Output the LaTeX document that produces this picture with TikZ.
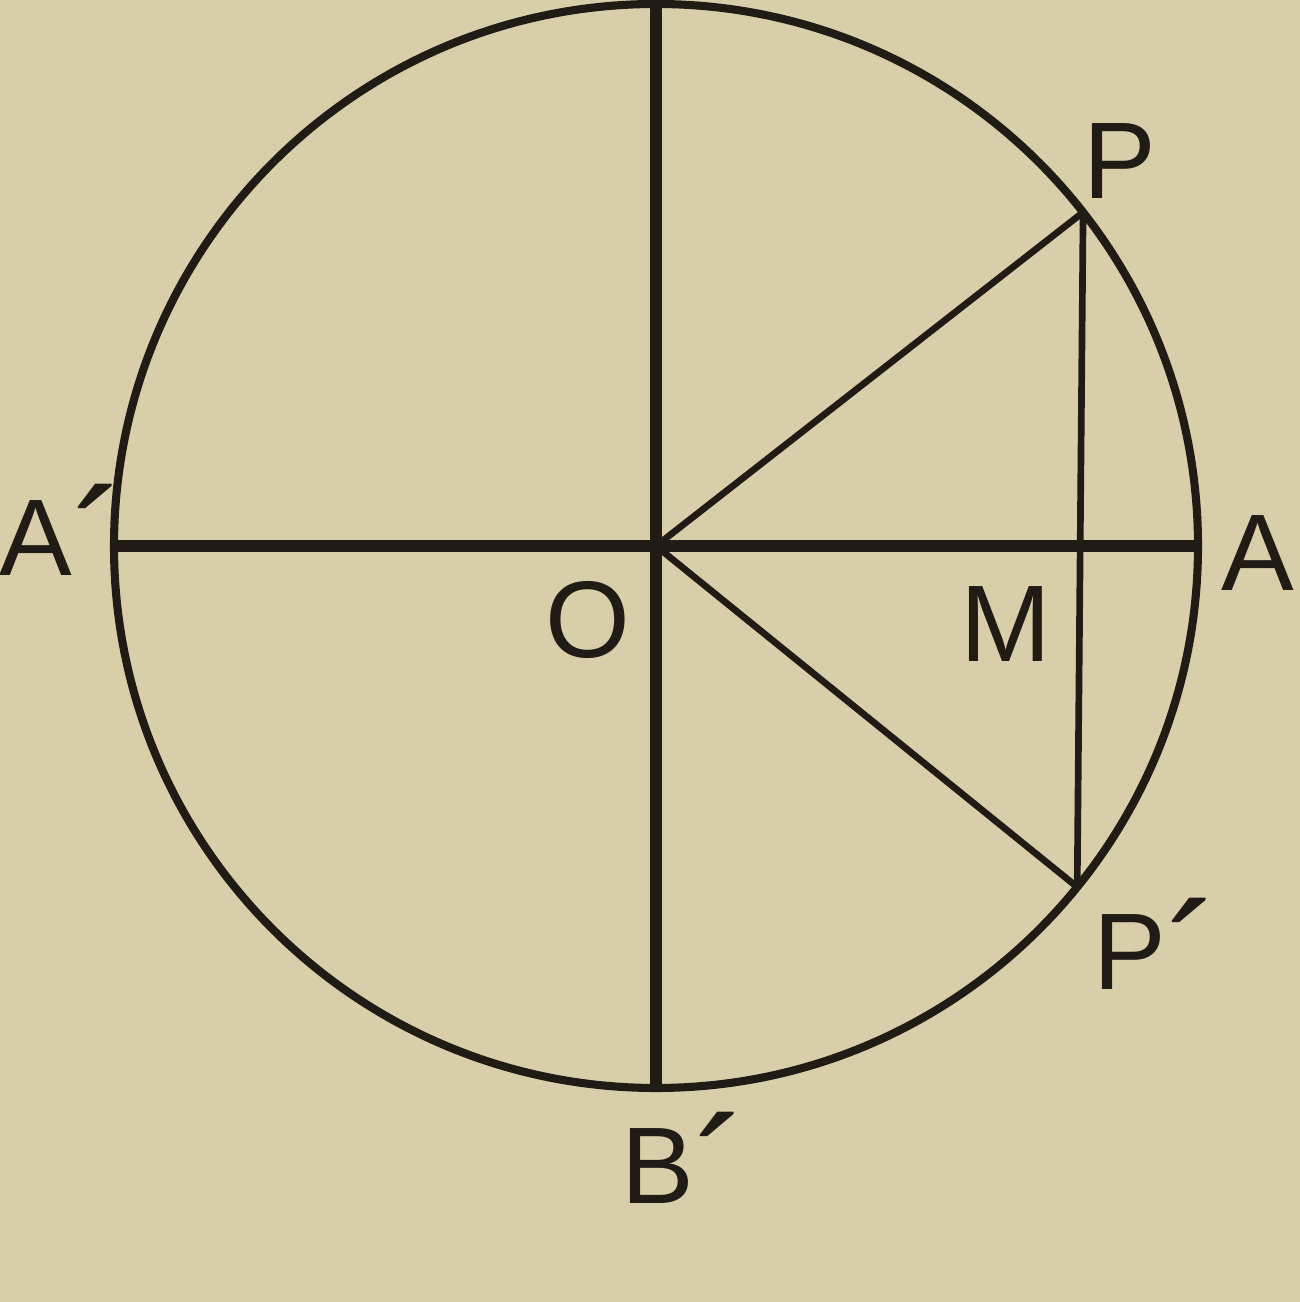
\documentclass[tikz,border=0pt]{standalone}
\usepackage{fontspec}
\setmainfont{Liberation Sans}
\usetikzlibrary{positioning,calc}
\definecolor{paper}{RGB}{216,207,170}
\definecolor{ink}{RGB}{32,27,20}
\newcommand{\accprime}{\rlap{\smash{\raisebox{-0.27em}{\scalebox{1.5}{´}}}}}

\begin{document}
\begin{tikzpicture}[x=1cm,y=1cm,
        axis/.style={draw=ink,line width=3.6pt},
        rim/.style={draw=ink,line width=2.3pt},
        chord/.style={draw=ink,line width=1.9pt},
        lbl/.style={font=\fontsize{31}{31}\selectfont,inner sep=0pt,text=ink}]
            \useasboundingbox[fill=paper] (0,0) rectangle (13,13.02);
            \coordinate (O) at (6.56,7.56);
            \coordinate (A)  at ($(O)+(0:5.42)$);
            \coordinate (A') at ($(O)+(180:5.42)$);
            \coordinate (B)  at ($(O)+(90:5.42)$);
            \coordinate (B') at ($(O)+(-90:5.42)$);
            \coordinate (P)  at ($(O)+(38:5.42)$);
            \coordinate (P') at ($(O)+(-39:5.42)$);
            \draw[rim] (O) circle (5.42);
            \path[chord]
                (O) edge (P)
                    edge (P')
                (P) edge (P');
            \path[axis]
                (A') edge (A)
                (B) edge (B');
            \node[lbl] (lA') at (0.36,7.64) {A\accprime};
            \node[lbl] (lA)  at (12.58,7.49) {A};
            \node[lbl] (lP)  at (11.20,11.41) {P};
            \node[lbl] (lM)  at (10.06,6.78) {M};
            \node[lbl] (lO)  at (5.88,6.82) {O};
            \node[lbl] (lP') at (11.30,3.50) {P\accprime};
            \node[lbl] (lB') at (6.58,1.36) {B\accprime};
        \end{tikzpicture}
\end{document}
